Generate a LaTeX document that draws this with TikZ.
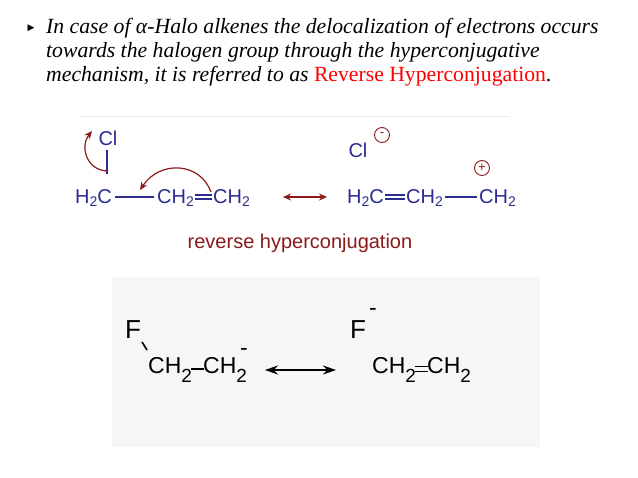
\documentclass[tikz,border=0pt]{standalone}
\usepackage{fontspec}
\setmainfont{Liberation Serif}
\newfontfamily\arial{Liberation Sans}
\newfontfamily\djv{DejaVu Sans}
\usetikzlibrary{arrows.meta,calc}
\definecolor{chemblue}{HTML}{2B2D8F}
\definecolor{chemred}{HTML}{8B1A1A}
\definecolor{boxgray}{HTML}{F6F6F6}
\newcommand{\sub}[1]{\raisebox{-0.35ex}{\fontsize{14}{14}\selectfont #1}}
\newcommand{\bsub}[1]{\raisebox{-0.75ex}{\fontsize{19}{19}\selectfont #1}}
\begin{document}
\begin{tikzpicture}[x=1pt,y=-1pt,
  txt/.style={inner sep=0,anchor=west,font=\fontsize{21.7}{24}\selectfont\itshape},
  chem/.style={inner sep=0,text=chemblue,font=\arial\fontsize{20}{20}\selectfont},
  bchem/.style={inner sep=0,font=\arial\fontsize{23}{23}\selectfont},
  bond/.style={chemblue,line width=1.6pt},
  cur/.style={chemred,line width=1.2pt,-{Stealth[length=8pt,width=7pt]}},
  chg/.style={draw=chemred,circle,inner sep=0,minimum size=15pt,line width=0.9pt,text=chemred,font=\arial\fontsize{13}{13}\selectfont}]
\useasboundingbox (0,0) rectangle (638,478);
\fill[white] (0,0) rectangle (638,478);
% text
\node[inner sep=0,font=\djv\fontsize{9}{9}\selectfont] (bul) at (31,28) {▶};
\node[txt] (l1) at (46,28) {In case of α-Halo alkenes the delocalization of electrons occurs};
\node[txt] (l2) at (46,52) {towards the halogen group through the hyperconjugative};
\node[txt] (l3) at (46,76) {mechanism, it is referred to as \textcolor{red}{\upshape Reverse Hyperconjugation}\upshape.};
% top diagram
\draw[black!8,line width=1pt] (80,117) -- (510,117);
\node[chem,anchor=west] (h2c) at (75,198) {H\sub{2}C};
\node[chem,anchor=west] (ch2a) at (157,198) {CH\sub{2}};
\node[chem,anchor=west] (ch2b) at (213,198) {CH\sub{2}};
\node[chem] (cl) at (108,138) {Cl};
\draw[bond] ($(h2c.east)+(3,-1)$) -- ($(ch2a.west)+(-3,-1)$);
\draw[bond] ($(ch2a.east)+(1,-3)$) -- ($(ch2b.west)+(-1,-3)$);
\draw[bond] ($(ch2a.east)+(1,1)$) -- ($(ch2b.west)+(-1,1)$);
\draw[bond] (107,150) -- (107,174);
\draw[cur] (107,171) .. controls (86,170) and (80,146) .. (92,131);
\draw[cur] (211,192) .. controls (200,162) and (160,160) .. (140,190);
\draw[chemred,line width=1.4pt,{Stealth[length=8pt,width=7pt]}-{Stealth[length=8pt,width=7pt]}] (283,197) -- (327,197);
\node[chem] (cl2) at (358,150) {Cl};
\node[chg] (neg) at (382,135) {\raisebox{0.2ex}{-}};
\node[chem,anchor=west] (r1) at (347,198) {H\sub{2}C};
\node[chem,anchor=west] (r2) at (406,198) {CH\sub{2}};
\node[chem,anchor=west] (r3) at (479,198) {CH\sub{2}};
\draw[bond] ($(r1.east)+(1,-3)$) -- ($(r2.west)+(-1,-3)$);
\draw[bond] ($(r1.east)+(1,1)$) -- ($(r2.west)+(-1,1)$);
\draw[bond] ($(r2.east)+(2,-1)$) -- ($(r3.west)+(-2,-1)$);
\node[chg] (pos) at (482,168) {+};
\node[inner sep=0,text=chemred,font=\arial\fontsize{20}{20}\selectfont] (lab) at (300,243) {reverse hyperconjugation};
% bottom box
\fill[boxgray] (112,277) rectangle (540,447);
\node[bchem,font=\arial\fontsize{26}{26}\selectfont] (f1) at (133,330) {F};
\draw[black,line width=1.6pt] (142,342) -- (147,350);
\node[bchem,anchor=west] (c1) at (148,370) {CH\bsub{2}};
\node[bchem,anchor=west] (c2) at (203,370) {CH\bsub{2}};
\draw[black,line width=2.2pt] ($(c1.east)+(-1,-1)$) -- ($(c2.west)+(1,-1)$);
\node[bchem] (m1) at (244,352) {-};
\draw[black,line width=2pt,{Stealth[length=13pt,width=9pt]}-{Stealth[length=13pt,width=9pt]}] (265,370) -- (336,370);
\node[bchem,font=\arial\fontsize{26}{26}\selectfont] (f2) at (358,330) {F};
\node[bchem] (m2) at (373,312) {-};
\node[bchem,anchor=west] (c3) at (372,370) {CH\bsub{2}};
\node[bchem,anchor=west] (c4) at (427,370) {CH\bsub{2}};
\draw[black,line width=1.8pt] ($(c3.east)+(-1,-3.5)$) -- ($(c4.west)+(1,-3.5)$);
\draw[black,line width=1.8pt] ($(c3.east)+(-1,1.5)$) -- ($(c4.west)+(1,1.5)$);
\end{tikzpicture}
\end{document}
